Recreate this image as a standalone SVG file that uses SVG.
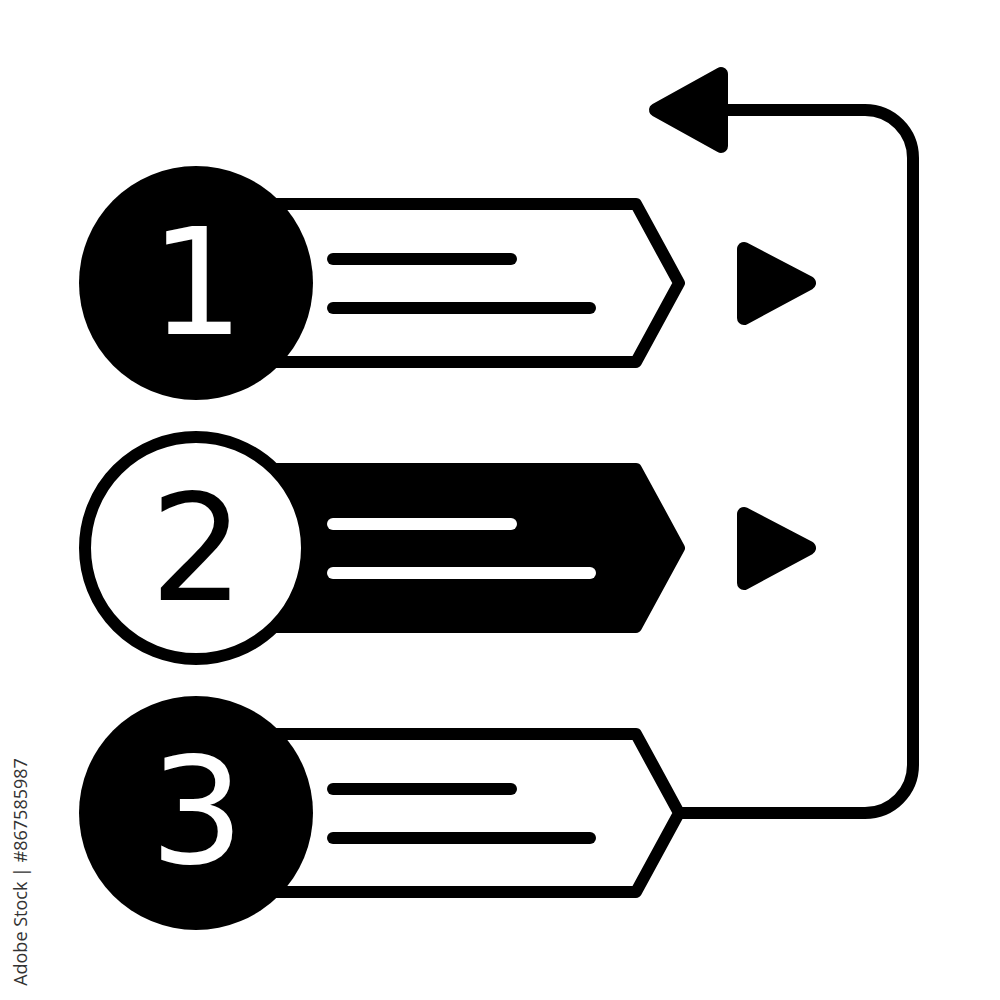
<svg xmlns="http://www.w3.org/2000/svg" width="1000" height="1000" viewBox="0 0 1000 1000">
<style>
.ol{fill:none;stroke:#000;stroke-width:12;stroke-linecap:round;stroke-linejoin:round}
.bw{fill:#fff;stroke:#000;stroke-width:12;stroke-linejoin:round}
.bb{fill:#000;stroke:#000;stroke-width:12;stroke-linejoin:round}
.lk{stroke:#000;stroke-width:12;stroke-linecap:round}
.lw{stroke:#fff;stroke-width:12;stroke-linecap:round}
.tri{fill:#000;stroke:#000;stroke-width:14;stroke-linejoin:round}
.dg{font-family:"DejaVu Sans",sans-serif;font-size:148px;text-anchor:middle}
</style>
<rect width="1000" height="1000" fill="#fff"/>
<g id="connectors">
<path class="ol" d="M680 813 H865 A48 48 0 0 0 913 765 V158 A48 48 0 0 0 865 110 H722"/>
<polygon class="tri" points="656,110 721,74 721,146"/>
</g>
<g id="step1">
<path class="bw" d="M270 204 H636 L679 283 L636 362 H270 Z"/>
<line class="lk" x1="333" y1="259" x2="511" y2="259"/>
<line class="lk" x1="333" y1="308" x2="590" y2="308"/>
<circle cx="196" cy="283" r="117" fill="#000"/>
<text class="dg" x="197" y="334" fill="#fff">1</text>
<polygon class="tri" points="744,249 744,318 809,283"/>
</g>
<g id="step2">
<path class="bb" d="M270 469 H636 L679 548 L636 627 H270 Z"/>
<line class="lw" x1="333" y1="524" x2="511" y2="524"/>
<line class="lw" x1="333" y1="573" x2="590" y2="573"/>
<circle cx="196" cy="548" r="111" fill="#fff" stroke="#000" stroke-width="12"/>
<text class="dg" x="197" y="600" fill="#000">2</text>
<polygon class="tri" points="744,514 744,583 809,548"/>
</g>
<g id="step3">
<path class="bw" d="M270 734 H636 L679 813 L636 892 H270 Z"/>
<line class="lk" x1="333" y1="789" x2="511" y2="789"/>
<line class="lk" x1="333" y1="838" x2="590" y2="838"/>
<circle cx="196" cy="813" r="117" fill="#000"/>
<text class="dg" x="197" y="863" fill="#fff">3</text>
</g>
<text x="22" y="872" transform="rotate(-90 22 872)" text-anchor="middle" dominant-baseline="middle" font-family="'Open Sans',sans-serif" font-size="18" fill="#333">Adobe Stock | #867585987</text>
</svg>
